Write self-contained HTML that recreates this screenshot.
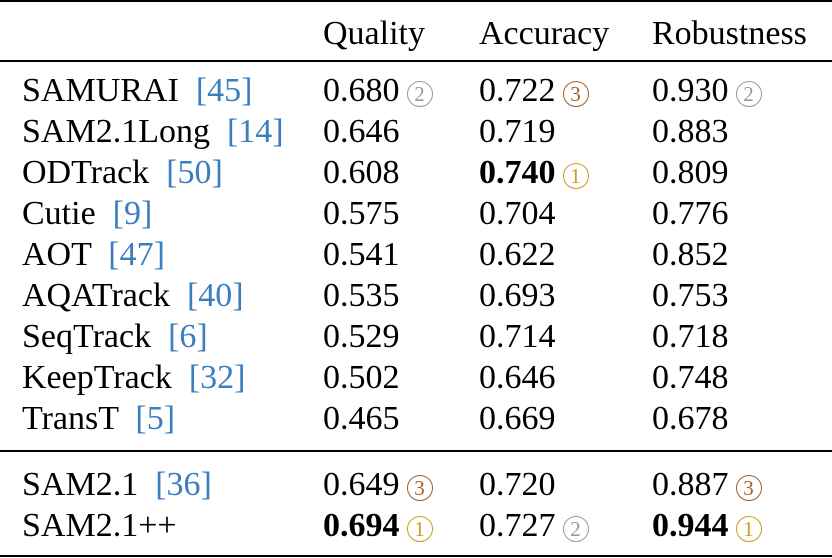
<!DOCTYPE html>
<html><head><meta charset="utf-8"><style>
body{margin:0;background:#fff;width:832px;height:558px;position:relative;overflow:hidden;font-family:"Liberation Serif",serif;font-size:34px;color:#000}
.t{position:absolute;line-height:34px;white-space:nowrap}
.r{position:absolute;left:0;width:832px;background:#000}
.c{color:#3a7ebf}
.o{display:inline-block;width:24px;height:24px;border:1.3px solid;border-radius:50%;font-size:21px;line-height:24px;text-align:center;vertical-align:0px;margin-left:7px;font-weight:normal}
.g{color:#999}.b{color:#a0602a}.y{color:#d09a1a}
</style></head><body>
<div class="r" style="top:0;height:2px"></div>
<div class="r" style="top:60px;height:1.5px"></div>
<div class="r" style="top:450px;height:1.5px"></div>
<div class="r" style="top:555px;height:2px"></div>
<div class="t" style="left:323px;top:17px">Quality</div>
<div class="t" style="left:479px;top:17px">Accuracy</div>
<div class="t" style="left:652px;top:17px">Robustness</div>

<div class="t" style="left:22px;top:74px">SAMURAI &nbsp;<span class="c">[45]</span></div>
<div class="t" style="left:323px;top:74px">0.680<span class="o g">2</span></div>
<div class="t" style="left:479px;top:74px">0.722<span class="o b">3</span></div>
<div class="t" style="left:652px;top:74px">0.930<span class="o g">2</span></div>

<div class="t" style="left:22px;top:115px">SAM2.1Long &nbsp;<span class="c">[14]</span></div>
<div class="t" style="left:323px;top:115px">0.646</div>
<div class="t" style="left:479px;top:115px">0.719</div>
<div class="t" style="left:652px;top:115px">0.883</div>

<div class="t" style="left:22px;top:156px">ODTrack &nbsp;<span class="c">[50]</span></div>
<div class="t" style="left:323px;top:156px">0.608</div>
<div class="t" style="left:479px;top:156px"><b>0.740</b><span class="o y">1</span></div>
<div class="t" style="left:652px;top:156px">0.809</div>

<div class="t" style="left:22px;top:197px">Cutie &nbsp;<span class="c">[9]</span></div>
<div class="t" style="left:323px;top:197px">0.575</div>
<div class="t" style="left:479px;top:197px">0.704</div>
<div class="t" style="left:652px;top:197px">0.776</div>

<div class="t" style="left:22px;top:238px">AOT &nbsp;<span class="c">[47]</span></div>
<div class="t" style="left:323px;top:238px">0.541</div>
<div class="t" style="left:479px;top:238px">0.622</div>
<div class="t" style="left:652px;top:238px">0.852</div>

<div class="t" style="left:22px;top:279px">AQATrack &nbsp;<span class="c">[40]</span></div>
<div class="t" style="left:323px;top:279px">0.535</div>
<div class="t" style="left:479px;top:279px">0.693</div>
<div class="t" style="left:652px;top:279px">0.753</div>

<div class="t" style="left:22px;top:320px">SeqTrack &nbsp;<span class="c">[6]</span></div>
<div class="t" style="left:323px;top:320px">0.529</div>
<div class="t" style="left:479px;top:320px">0.714</div>
<div class="t" style="left:652px;top:320px">0.718</div>

<div class="t" style="left:22px;top:361px">KeepTrack &nbsp;<span class="c">[32]</span></div>
<div class="t" style="left:323px;top:361px">0.502</div>
<div class="t" style="left:479px;top:361px">0.646</div>
<div class="t" style="left:652px;top:361px">0.748</div>

<div class="t" style="left:22px;top:402px">TransT &nbsp;<span class="c">[5]</span></div>
<div class="t" style="left:323px;top:402px">0.465</div>
<div class="t" style="left:479px;top:402px">0.669</div>
<div class="t" style="left:652px;top:402px">0.678</div>

<div class="t" style="left:22px;top:468px">SAM2.1 &nbsp;<span class="c">[36]</span></div>
<div class="t" style="left:323px;top:468px">0.649<span class="o b">3</span></div>
<div class="t" style="left:479px;top:468px">0.720</div>
<div class="t" style="left:652px;top:468px">0.887<span class="o b">3</span></div>

<div class="t" style="left:22px;top:509px">SAM2.1++</div>
<div class="t" style="left:323px;top:509px"><b>0.694</b><span class="o y">1</span></div>
<div class="t" style="left:479px;top:509px">0.727<span class="o g">2</span></div>
<div class="t" style="left:652px;top:509px"><b>0.944</b><span class="o y">1</span></div>
</body></html>
